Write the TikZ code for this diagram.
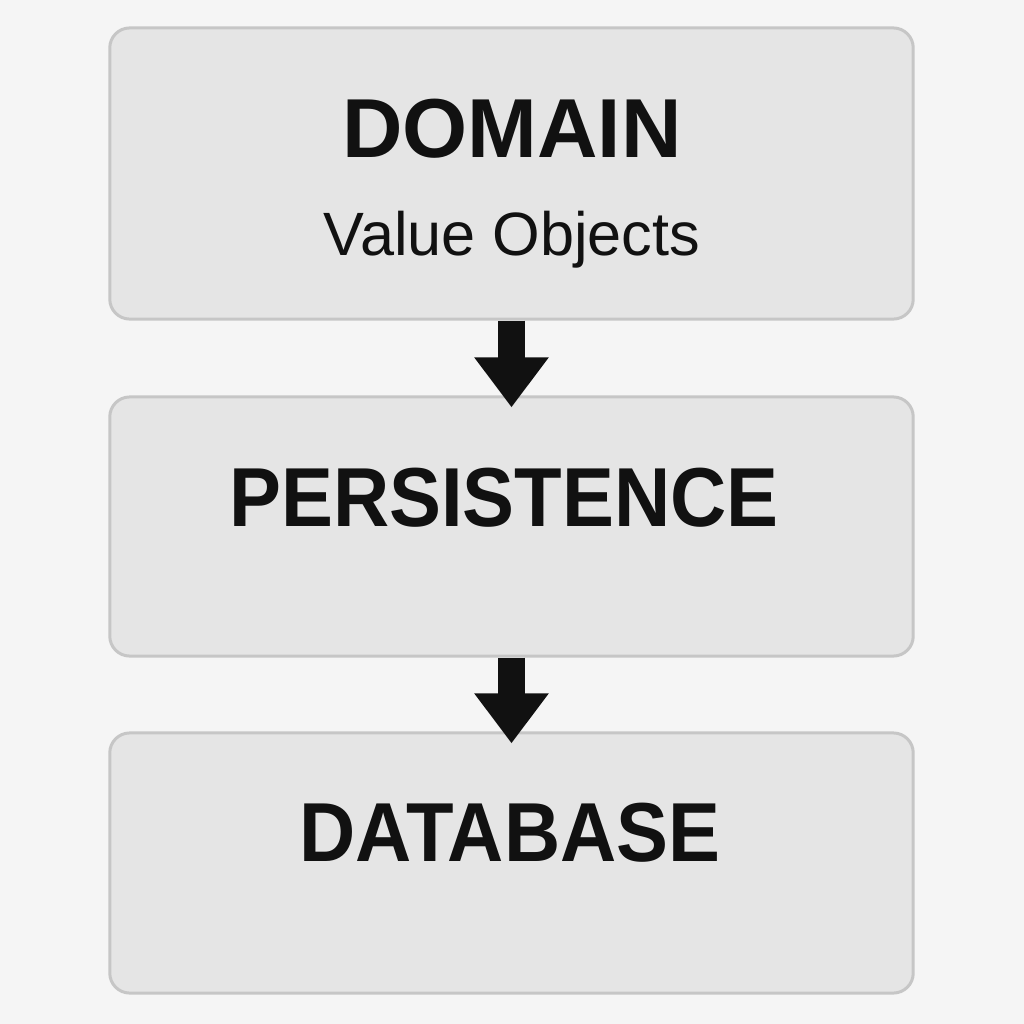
\documentclass[tikz,border=0pt]{standalone}
\usepackage{fontspec}
\setmainfont{Liberation Sans}
\newfontfamily\titlefont[FakeStretch=0.93]{Liberation Sans}
\newfontfamily\widetitlefont{Liberation Sans}
\usetikzlibrary{arrows.meta}
\definecolor{bgcol}{HTML}{F5F5F5}
\definecolor{boxfill}{HTML}{E5E5E5}
\definecolor{boxline}{HTML}{C6C6C6}
\definecolor{inkcol}{HTML}{111111}
\tikzset{
  layer/.style={draw=boxline, line width=0.03cm, fill=boxfill, rounded corners=0.2cm, minimum width=8.03cm, inner sep=0pt},
  title/.style={anchor=base, text=inkcol, font=\titlefont\bfseries\fontsize{23.8pt}{28pt}\selectfont},
  widetitle/.style={title, font=\widetitlefont\bfseries\fontsize{23.8pt}{28pt}\selectfont},
  sub/.style={anchor=base, text=inkcol, font=\fontsize{17.4pt}{21pt}\selectfont},
  flow/.style={draw=inkcol, line width=0.26cm, -{Triangle[length=0.5cm, width=0.71cm]}}
}
\begin{document}
\begin{tikzpicture}[x=0.01cm, y=-0.01cm]
                \fill[bgcol] (0,0) rectangle (1024,1024);
                \useasboundingbox (0,0) rectangle (1024,1024);
                \node[layer, minimum height=2.91cm] (domain) at (511.5,173.5) {};
                \node[layer, minimum height=2.59cm] (persist) at (511.5,526.5) {};
                \node[layer, minimum height=2.60cm] (db) at (511.5,863) {};

                \node[widetitle] (domaintxt) at (512,157) {DOMAIN};
                \node[sub] (vo) at (512,255) {Value Objects};
                \node[title] (persisttxt) at (504,526) {PERSISTENCE};
                \node[title] (dbtxt) at (510,861) {DATABASE};

                \draw[flow] (domain.south) to ([yshift=-0.12cm]persist.north); \draw[flow] (persist.south) to ([yshift=-0.12cm]db.north);
            \end{tikzpicture}
\end{document}
